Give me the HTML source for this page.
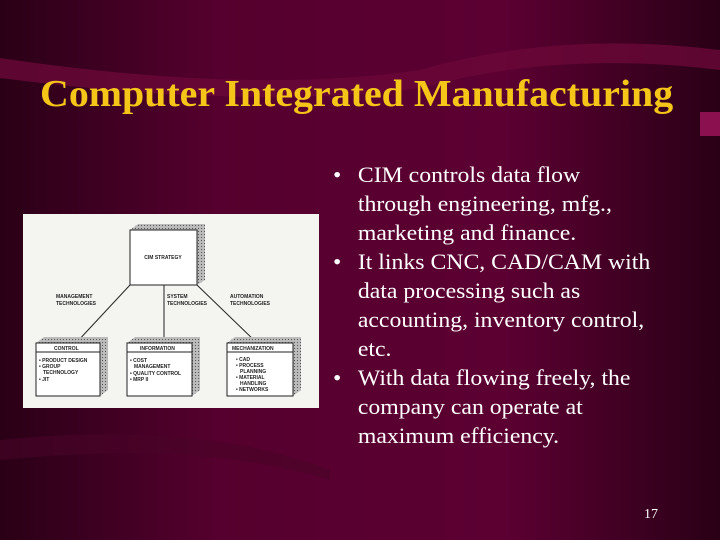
<!DOCTYPE html>
<html><head><style>
body{margin:0;width:720px;height:540px;overflow:hidden;background:#3a0420;position:relative;font-family:"Liberation Serif","Times New Roman",serif}
.t{position:absolute;left:40px;top:72px;color:#f5c518;font-weight:bold;font-size:38px;white-space:nowrap;transform-origin:0 0;transform:scaleX(1.05)}
ul{position:absolute;left:333px;top:160px;margin:0;padding:0;list-style:none;color:#fff;font-size:22px;line-height:29px;white-space:nowrap;transform-origin:0 0;transform:scaleX(1.08)}
li{padding-left:23px;position:relative}
li:before{content:"•";position:absolute;left:0}
.n{position:absolute;left:644px;top:507px;color:#fff;font-size:14px}
</style></head><body>
<svg width="720" height="540" style="position:absolute;left:0;top:0">
<defs>
<linearGradient id="g" x1="0" x2="1"><stop offset="0" stop-color="#2a0016"/><stop offset="0.3" stop-color="#55002e"/><stop offset="0.7" stop-color="#5c0032"/><stop offset="1" stop-color="#2a0016"/></linearGradient>
<pattern id="d" width="3" height="3" patternUnits="userSpaceOnUse"><rect width="3" height="3" fill="#bbb"/><rect width="1" height="1" fill="#555"/></pattern>
</defs>
<rect width="720" height="540" fill="url(#g)"/>
<path d="M0 58 Q250 95 420 70 Q560 30 720 50 L720 70 Q560 50 420 88 Q250 110 0 78Z" fill="#6a0838" opacity="0.8"/>
<path d="M0 440 Q200 420 330 470 L330 480 Q200 440 0 460Z" fill="#4a0428" opacity="0.6"/>
<rect x="700" y="112" width="20" height="24" fill="#8a1050"/>
<rect x="23" y="214" width="296" height="194" fill="#f4f4f0"/>
<g stroke="#222" stroke-width="1" fill="none">
<line x1="130" y1="285" x2="76" y2="343"/><line x1="164" y1="285" x2="164" y2="343"/><line x1="197" y1="285" x2="257" y2="343"/>
</g>
<g font-family="Liberation Sans,sans-serif" font-size="5" fill="#222" font-weight="bold">
<polygon points="130,230 138,224 205,224 205,280 197,285 197,230" fill="url(#d)"/>
<rect x="130" y="230" width="67" height="55" fill="#fff" stroke="#222"/>
<text x="163" y="259" text-anchor="middle">CIM STRATEGY</text>
<text x="56" y="298">MANAGEMENT</text><text x="56" y="305">TECHNOLOGIES</text>
<text x="167" y="298">SYSTEM</text><text x="167" y="305">TECHNOLOGIES</text>
<text x="230" y="298">AUTOMATION</text><text x="230" y="305">TECHNOLOGIES</text>
<g>
<polygon points="36,343 44,337 108,337 108,390 100,396 100,343" fill="url(#d)"/>
<rect x="36" y="343" width="64" height="53" fill="#fff" stroke="#222"/><line x1="36" y1="352" x2="100" y2="352" stroke="#222"/>
<text x="54" y="350">CONTROL</text>
<text x="39" y="362">• PRODUCT DESIGN</text><text x="39" y="368">• GROUP</text><text x="43" y="374">TECHNOLOGY</text><text x="39" y="381">• JIT</text>
</g>
<g>
<polygon points="127,343 135,337 200,337 200,390 192,396 192,343" fill="url(#d)"/>
<rect x="127" y="343" width="65" height="53" fill="#fff" stroke="#222"/><line x1="127" y1="352" x2="192" y2="352" stroke="#222"/>
<text x="140" y="350">INFORMATION</text>
<text x="130" y="362">• COST</text><text x="134" y="368">MANAGEMENT</text><text x="130" y="375">• QUALITY CONTROL</text><text x="130" y="381">• MRP II</text>
</g>
<g>
<polygon points="227,343 235,337 301,337 301,390 293,396 293,343" fill="url(#d)"/>
<rect x="227" y="343" width="66" height="53" fill="#fff" stroke="#222"/><line x1="227" y1="352" x2="293" y2="352" stroke="#222"/>
<text x="232" y="350">MECHANIZATION</text>
<text x="236" y="361">• CAD</text><text x="236" y="367">• PROCESS</text><text x="240" y="373">PLANNING</text><text x="236" y="379">• MATERIAL</text><text x="240" y="385">HANDLING</text><text x="236" y="391">• NETWORKS</text>
</g>
</g>
</svg>
<div class="t">Computer Integrated Manufacturing</div>
<ul>
<li>CIM controls data flow<br>through engineering, mfg.,<br>marketing and finance.</li>
<li>It links CNC, CAD/CAM with<br>data processing such as<br>accounting, inventory control,<br>etc.</li>
<li>With data flowing freely, the<br>company can operate at<br>maximum efficiency.</li>
</ul>
<div class="n">17</div>
</body></html>
